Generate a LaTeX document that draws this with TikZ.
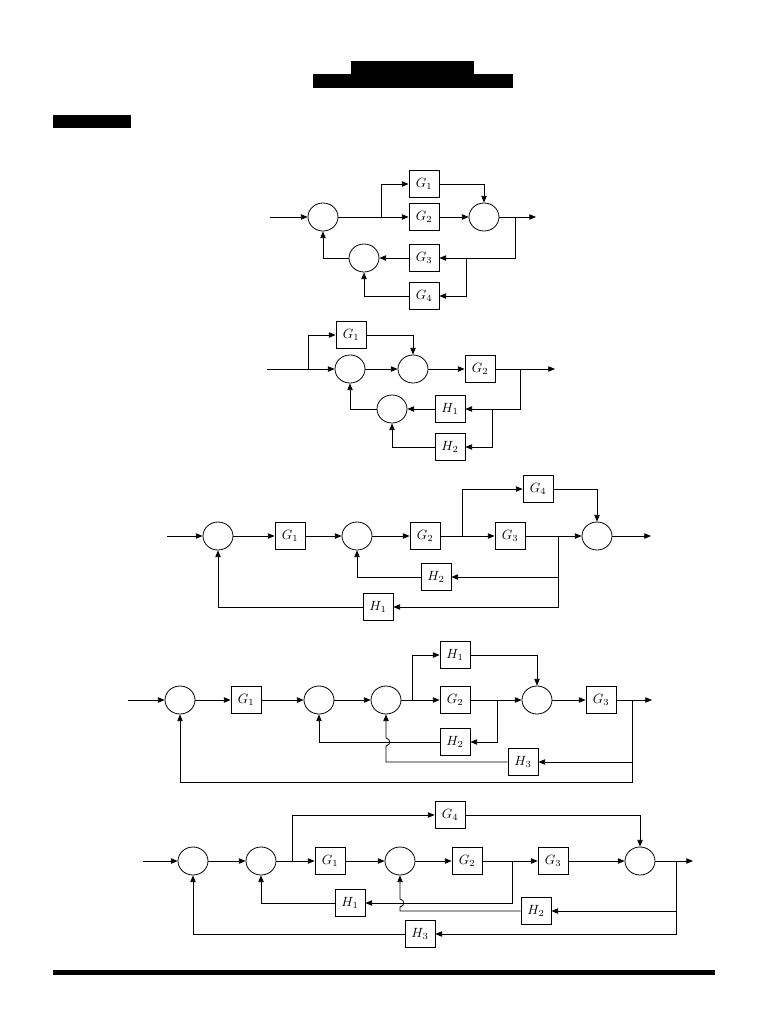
\documentclass[tikz,border=0pt]{standalone}
\usetikzlibrary{shapes.geometric,arrows.meta}
\begin{document}
\begin{tikzpicture}[x=0.75pt,y=-0.75pt,line width=0.6pt,
  blk/.style={draw,rectangle,minimum width=22.5pt,minimum height=20pt,inner sep=1pt,font=\normalsize},
  sum/.style={draw,ellipse,minimum width=22.5pt,minimum height=21pt,inner sep=0pt},
  arr/.style={-{Triangle[length=5pt,width=4pt]}}]
\useasboundingbox (0,0) rectangle (768,1024);
% header bars
\fill (351,61) rectangle (474,75);
\fill (313,74) rectangle (513,88);
\fill (53,115) rectangle (131,128);
\fill (53,970) rectangle (715,975);
% ---------- Diagram 1
\node[sum] (a1) at (323,217) {};
\node[sum] (a2) at (484,217) {};
\node[sum] (a3) at (364,258) {};
\node[blk] (ag1) at (424,184) {$G_1$};
\node[blk] (ag2) at (424,217) {$G_2$};
\node[blk] (ag3) at (424,258) {$G_3$};
\node[blk] (ag4) at (424,296) {$G_4$};
\coordinate (ain) at (270,217); \coordinate (aout) at (536,217);
\coordinate (ab) at (381,217); \coordinate (at) at (515,217); \coordinate (at2) at (466,258);
\draw[arr] (ain) -- (a1.west);
\draw[arr] (a1.east) -- (ag2.west);
\draw[arr] (ab) |- (ag1.west);
\draw[arr] (ag2.east) -- (a2.west);
\draw[arr] (ag1.east) -| (a2.north);
\draw[arr] (a2.east) -- (aout);
\draw[arr] (at) |- (ag3.east);
\draw[arr] (at2) |- (ag4.east);
\draw[arr] (ag3.west) -- (a3.east);
\draw[arr] (a3.west) -| (a1.south);
\draw[arr] (ag4.west) -| (a3.south);
% ---------- Diagram 2
\node[sum] (b1) at (350,369) {};
\node[sum] (b2) at (413,369) {};
\node[sum] (b3) at (392,409) {};
\node[blk] (bg1) at (351,335) {$G_1$};
\node[blk] (bg2) at (480,369) {$G_2$};
\node[blk] (bh1) at (450,409) {$H_1$};
\node[blk] (bh2) at (450,447) {$H_2$};
\coordinate (bin) at (267,369); \coordinate (bout) at (555,369);
\coordinate (bb) at (308,369); \coordinate (bt) at (520,369); \coordinate (bt2) at (492,409);
\draw[arr] (bin) -- (b1.west);
\draw[arr] (bb) |- (bg1.west);
\draw[arr] (b1.east) -- (b2.west);
\draw[arr] (bg1.east) -| (b2.north);
\draw[arr] (b2.east) -- (bg2.west);
\draw[arr] (bg2.east) -- (bout);
\draw[arr] (bt) |- (bh1.east);
\draw[arr] (bt2) |- (bh2.east);
\draw[arr] (bh1.west) -- (b3.east);
\draw[arr] (b3.west) -| (b1.south);
\draw[arr] (bh2.west) -| (b3.south);
% ---------- Diagram 3
\node[sum] (c1) at (218,536) {};
\node[sum] (c2) at (357,536) {};
\node[sum] (c3) at (597,536) {};
\node[blk] (cg1) at (290,536) {$G_1$};
\node[blk] (cg2) at (425,536) {$G_2$};
\node[blk] (cg3) at (510,536) {$G_3$};
\node[blk] (cg4) at (538,489) {$G_4$};
\node[blk] (ch2) at (436,577) {$H_2$};
\node[blk] (ch1) at (378,607) {$H_1$};
\coordinate (cin) at (167,536); \coordinate (cout) at (651,536);
\coordinate (cb) at (462,536); \coordinate (ct) at (558,536); \coordinate (ct2) at (558,577);
\draw[arr] (cin) -- (c1.west);
\draw[arr] (c1.east) -- (cg1.west);
\draw[arr] (cg1.east) -- (c2.west);
\draw[arr] (c2.east) -- (cg2.west);
\draw[arr] (cg2.east) -- (cg3.west);
\draw[arr] (cb) |- (cg4.west);
\draw[arr] (cg3.east) -- (c3.west);
\draw[arr] (cg4.east) -| (c3.north);
\draw[arr] (c3.east) -- (cout);
\draw[arr] (ct) |- (ch1.east);
\draw[arr] (ct2) -- (ch2.east);
\draw[arr] (ch2.west) -| (c2.south);
\draw[arr] (ch1.west) -| (c1.south);
% ---------- Diagram 4
\node[sum] (d1) at (180,700) {};
\node[sum] (d2) at (319,700) {};
\node[sum] (d3) at (386,700) {};
\node[sum] (d4) at (537,700) {};
\node[blk] (dg1) at (246,700) {$G_1$};
\node[blk] (dg2) at (455,700) {$G_2$};
\node[blk] (dg3) at (601,700) {$G_3$};
\node[blk] (dh1) at (455,655) {$H_1$};
\node[blk] (dh2) at (455,742) {$H_2$};
\node[blk] (dh3) at (523,762) {$H_3$};
\coordinate (din) at (128,700); \coordinate (dout) at (652,700);
\coordinate (db) at (412,700); \coordinate (dt) at (497,700); \coordinate (dt2) at (632,700);
\coordinate (dt3) at (632,762); \coordinate (dbot) at (632,782);
\coordinate (dk1) at (386,762); \coordinate (dk2) at (386,746); \coordinate (dk3) at (386,738);
\draw[arr] (din) -- (d1.west);
\draw[arr] (d1.east) -- (dg1.west);
\draw[arr] (dg1.east) -- (d2.west);
\draw[arr] (d2.east) -- (d3.west);
\draw[arr] (d3.east) -- (dg2.west);
\draw[arr] (db) |- (dh1.west);
\draw[arr] (dg2.east) -- (d4.west);
\draw[arr] (dh1.east) -| (d4.north);
\draw[arr] (d4.east) -- (dg3.west);
\draw[arr] (dg3.east) -- (dout);
\draw[arr] (dt) |- (dh2.east);
\draw[arr] (dh2.west) -| (d2.south);
\draw[arr] (dt2) |- (dh3.east);
\draw[arr] (dt3) -- (dbot) -| (d1.south);
\draw[arr] (dh3.west) -- (dk1) -- (dk2) .. controls (391,745) and (391,739) .. (dk3) -- (d3.south);
% ---------- Diagram 5
\node[sum] (e1) at (193,861) {};
\node[sum] (e2) at (261,861) {};
\node[sum] (e3) at (400,861) {};
\node[sum] (e4) at (640,861) {};
\node[blk] (eg1) at (330,861) {$G_1$};
\node[blk] (eg2) at (467,861) {$G_2$};
\node[blk] (eg3) at (553,861) {$G_3$};
\node[blk] (eg4) at (450,815) {$G_4$};
\node[blk] (eh1) at (350,903) {$H_1$};
\node[blk] (eh2) at (536,911) {$H_2$};
\node[blk] (eh3) at (420,934) {$H_3$};
\coordinate (ein) at (143,861); \coordinate (eout) at (693,861);
\coordinate (eb) at (292,861); \coordinate (et) at (512,861); \coordinate (et2) at (676,861);
\coordinate (et3) at (676,911);
\coordinate (ek1) at (400,911); \coordinate (ek2) at (400,907); \coordinate (ek3) at (400,899);
\draw[arr] (ein) -- (e1.west);
\draw[arr] (e1.east) -- (e2.west);
\draw[arr] (e2.east) -- (eg1.west);
\draw[arr] (eb) |- (eg4.west);
\draw[arr] (eg1.east) -- (e3.west);
\draw[arr] (e3.east) -- (eg2.west);
\draw[arr] (eg2.east) -- (eg3.west);
\draw[arr] (eg3.east) -- (e4.west);
\draw[arr] (eg4.east) -| (e4.north);
\draw[arr] (e4.east) -- (eout);
\draw[arr] (et) |- (eh1.east);
\draw[arr] (eh1.west) -| (e2.south);
\draw[arr] (et2) |- (eh3.east);
\draw[arr] (et3) -- (eh2.east);
\draw[arr] (eh3.west) -| (e1.south);
\draw[arr] (eh2.west) -- (ek1) -- (ek2) .. controls (405,906) and (405,900) .. (ek3) -- (e3.south);
\end{tikzpicture}
\end{document}
